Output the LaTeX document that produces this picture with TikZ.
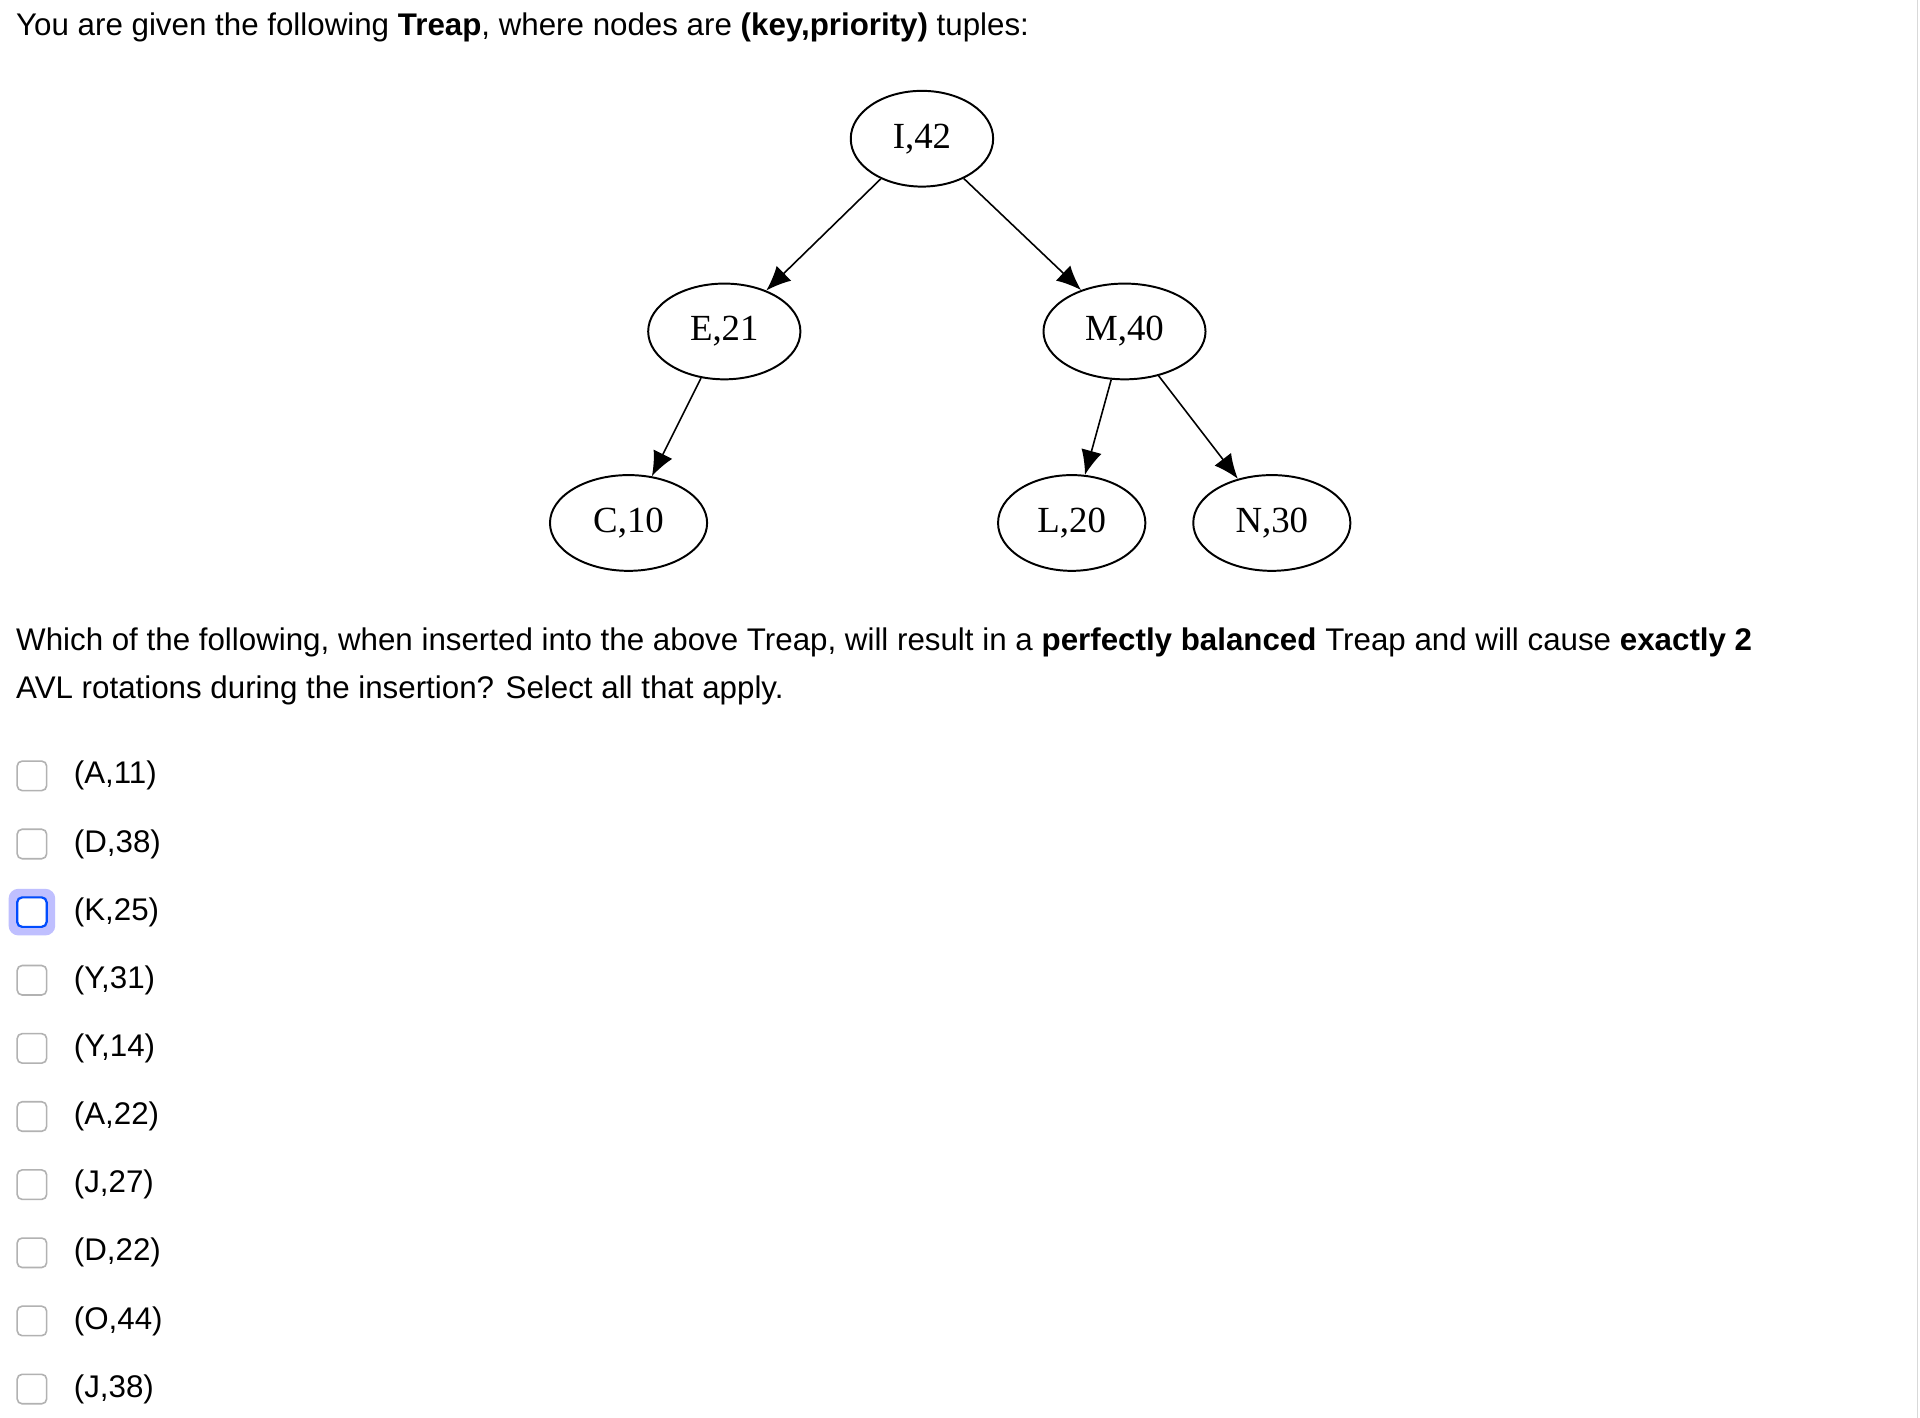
\documentclass[tikz,border=0pt]{standalone}
\usepackage{fontspec}
\setmainfont{Liberation Sans}
\newfontfamily\serifnode{Liberation Serif}
\usetikzlibrary{shapes.geometric,arrows.meta}
\begin{document}
\begin{tikzpicture}[x=1pt,y=-1pt,
  tnode/.style={ellipse,draw,line width=1.6pt,inner sep=0pt,font=\serifnode\fontsize{30}{30}\selectfont},
  edge/.style={line width=1.3pt,-{Latex[length=20pt,width=17pt]}},
  txt/.style={anchor=base west,inner sep=0pt,font=\fontsize{25.5}{30}\selectfont},
  cbox/.style={draw=black!30,line width=1.3pt,rounded corners=4pt,minimum size=24pt,inner sep=0pt,fill=white}]
\useasboundingbox (0,0) rectangle (1564,1155);
\fill[white] (0,0) rectangle (1564,1155);
\draw[black!15,line width=1.5pt] (1562,0) -- (1562,1155);
\node[txt] (t1) at (13,29) {You are given the following \textbf{Treap}, where nodes are \textbf{(key,priority)} tuples:};
\node[tnode,minimum width=116pt,minimum height=78pt] (I) at (751,113) {I,42};
\node[tnode,minimum width=124pt,minimum height=78pt] (E) at (590,270) {E,21};
\node[tnode,minimum width=132pt,minimum height=78pt] (M) at (916,270) {M,40};
\node[tnode,minimum width=128pt,minimum height=78pt] (C) at (512,426) {C,10};
\node[tnode,minimum width=120pt,minimum height=78pt] (L) at (873,426) {L,20};
\node[tnode,minimum width=128pt,minimum height=78pt] (N) at (1036,426) {N,30};
\draw[edge] (I) -- (E);
\draw[edge] (I) -- (M);
\draw[edge] (E) -- (C);
\draw[edge] (M) -- (L);
\draw[edge] (M) -- (N);
\node[txt] (q1) at (13,530) {Which of the following, when inserted into the above Treap, will result in a \textbf{perfectly balanced} Treap and will cause \textbf{exactly 2}};
\node[txt] (q2) at (13,569) {AVL rotations during the insertion? Select all that apply.};
\fill[blue!25!white,rounded corners=8pt] (7,724) rectangle (45,762);
\foreach \lab [count=\i] in {(A,11),(D,38),(K,25),(Y,31),(Y,14),(A,22),(J,27),(D,22),(O,44),(J,38)} {
  \pgfmathsetmacro{\yy}{632+(\i-1)*55.5}
  \node[cbox] (b\i) at (26,\yy) {};
  \node[txt,anchor=west] (l\i) at (60,\yy) {\lab};
}
\draw[blue!70!cyan,line width=1.8pt,rounded corners=4pt] (14,731) rectangle (38,755);
\end{tikzpicture}
\end{document}
